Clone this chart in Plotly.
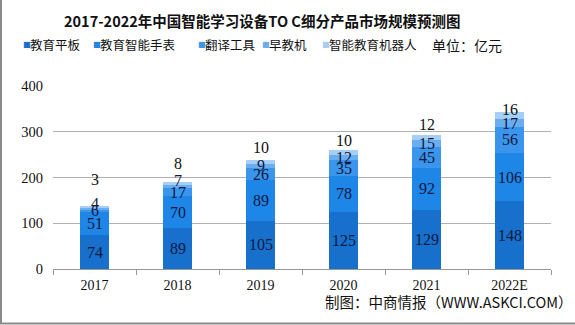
import plotly.graph_objects as go

# Market size of smart learning devices (to-C), by product segment, 100M CNY
years = ["2017", "2018", "2019", "2020", "2021", "2022E"]
series_names = ["教育平板", "教育智能手表", "翻译工具", "早教机", "智能教育机器人"]
tablet = [74, 89, 105, 125, 129, 148]
watch = [51, 70, 89, 78, 92, 106]
translator = [6, 17, 26, 35, 45, 56]
early_edu = [4, 7, 9, 12, 15, 17]
robot = [3, 8, 10, 10, 12, 16]
y_ticks = [0, 100, 200, 300, 400]

values = [tablet, watch, translator, early_edu, robot]
colors = ["#1670CC", "#1E86E6", "#3A95EC", "#6AAEF0", "#A5CFF6"]

# pixel lift of the top-segment labels above each bar, and of the 早教机 labels off centre
top_label_lift = [26, 18, 12, 10, 10, 3]
fourth_label_lift = [5, 6, 1, 0, 0, 0]

W, H = 575, 325
L, R, T, B = 53, 24, 86, 56
PW, PH = W - L - R, H - T - B


def px(x):
    return (x - L) / PW


def py(y):
    return (H - B - y) / PH


fig = go.Figure()
for name, vals, col in zip(series_names, values, colors):
    fig.add_trace(go.Bar(x=years, y=vals, name=name, marker=dict(color=col, line=dict(width=0)),
                         showlegend=False, hoverinfo="x+y+name"))

# value labels at the middle of each segment; the top segment is labelled above the bar
# (x given as the category index so the numeric-looking year names stay categories)
ann = []
for i, yr in enumerate(years):
    base = 0
    for k, vals in enumerate(values):
        v = vals[i]
        if k == len(values) - 1:
            ann.append(dict(x=i, y=base + v, text=str(v), showarrow=False, yanchor="middle",
                            yshift=top_label_lift[i], font=dict(family="Liberation Serif", size=16, color="#111111")))
        else:
            shift = fourth_label_lift[i] if k == 3 else 0
            ann.append(dict(x=i, y=base + v / 2, text=str(v), showarrow=False, yshift=shift,
                            font=dict(family="Liberation Serif", size=16, color="#101840")))
        base += v

# title
ann.append(dict(xref="paper", yref="paper", x=px(262), y=py(20), text="<b>2017-2022年中国智能学习设备TO C细分产品市场规模预测图</b>",
                showarrow=False, xanchor="center", yanchor="middle",
                font=dict(family="Noto Sans CJK SC", size=14.5, color="#111111")))

# legend row
legend_x = [(21, 28), (91, 98), (196, 203), (260, 267), (320, 327)]
for (mx, tx), name, col in zip(legend_x, series_names, colors):
    ann.append(dict(xref="paper", yref="paper", x=px(mx), y=py(45), text="■", showarrow=False,
                    xanchor="left", yanchor="middle", font=dict(family="DejaVu Sans", size=8, color=col)))
    ann.append(dict(xref="paper", yref="paper", x=px(tx), y=py(45), text=name, showarrow=False,
                    xanchor="left", yanchor="middle", font=dict(family="Noto Sans CJK SC", size=12.5, color="#111111")))
ann.append(dict(xref="paper", yref="paper", x=px(430), y=py(45), text="单位：亿元", showarrow=False,
                xanchor="left", yanchor="middle", font=dict(family="Noto Sans CJK SC", size=14, color="#111111")))

# source note
ann.append(dict(xref="paper", yref="paper", x=px(323), y=py(301), text="制图：中商情报（WWW.ASKCI.COM）", showarrow=False,
                xanchor="left", yanchor="middle", font=dict(family="Noto Sans CJK SC", size=14.5, color="#111111")))

# frame on the left and bottom edges
shapes = [
    dict(type="line", xref="paper", yref="paper", x0=px(1), x1=px(1), y0=py(0), y1=py(324),
         line=dict(color="#8a8a8a", width=2)),
    dict(type="line", xref="paper", yref="paper", x0=px(0), x1=px(575), y0=py(323.5), y1=py(323.5),
         line=dict(color="#8a8a8a", width=2)),
]

fig.update_layout(
    width=W, height=H,
    margin=dict(l=L, r=R, t=T, b=B),
    barmode="stack", bargap=0.65,
    plot_bgcolor="white", paper_bgcolor="white",
    annotations=ann, shapes=shapes,
    xaxis=dict(type="category", categoryorder="array", categoryarray=years, range=[-0.5, len(years) - 0.5],
               showline=True, linecolor="#999999", linewidth=1,
               ticks="outside", tickson="boundaries", ticklen=5, tickcolor="#999999", ticklabelstandoff=3,
               tickfont=dict(family="Liberation Serif", size=14, color="#111111"), showgrid=False),
    yaxis=dict(range=[0, 400], tickvals=y_ticks, showgrid=True, gridcolor="#b0b0b0", gridwidth=1,
               zeroline=False, showline=False, ticks="", ticklabelstandoff=9,
               tickfont=dict(family="Liberation Serif", size=14.5, color="#111111")),
)

fig.write_html("out.html")
